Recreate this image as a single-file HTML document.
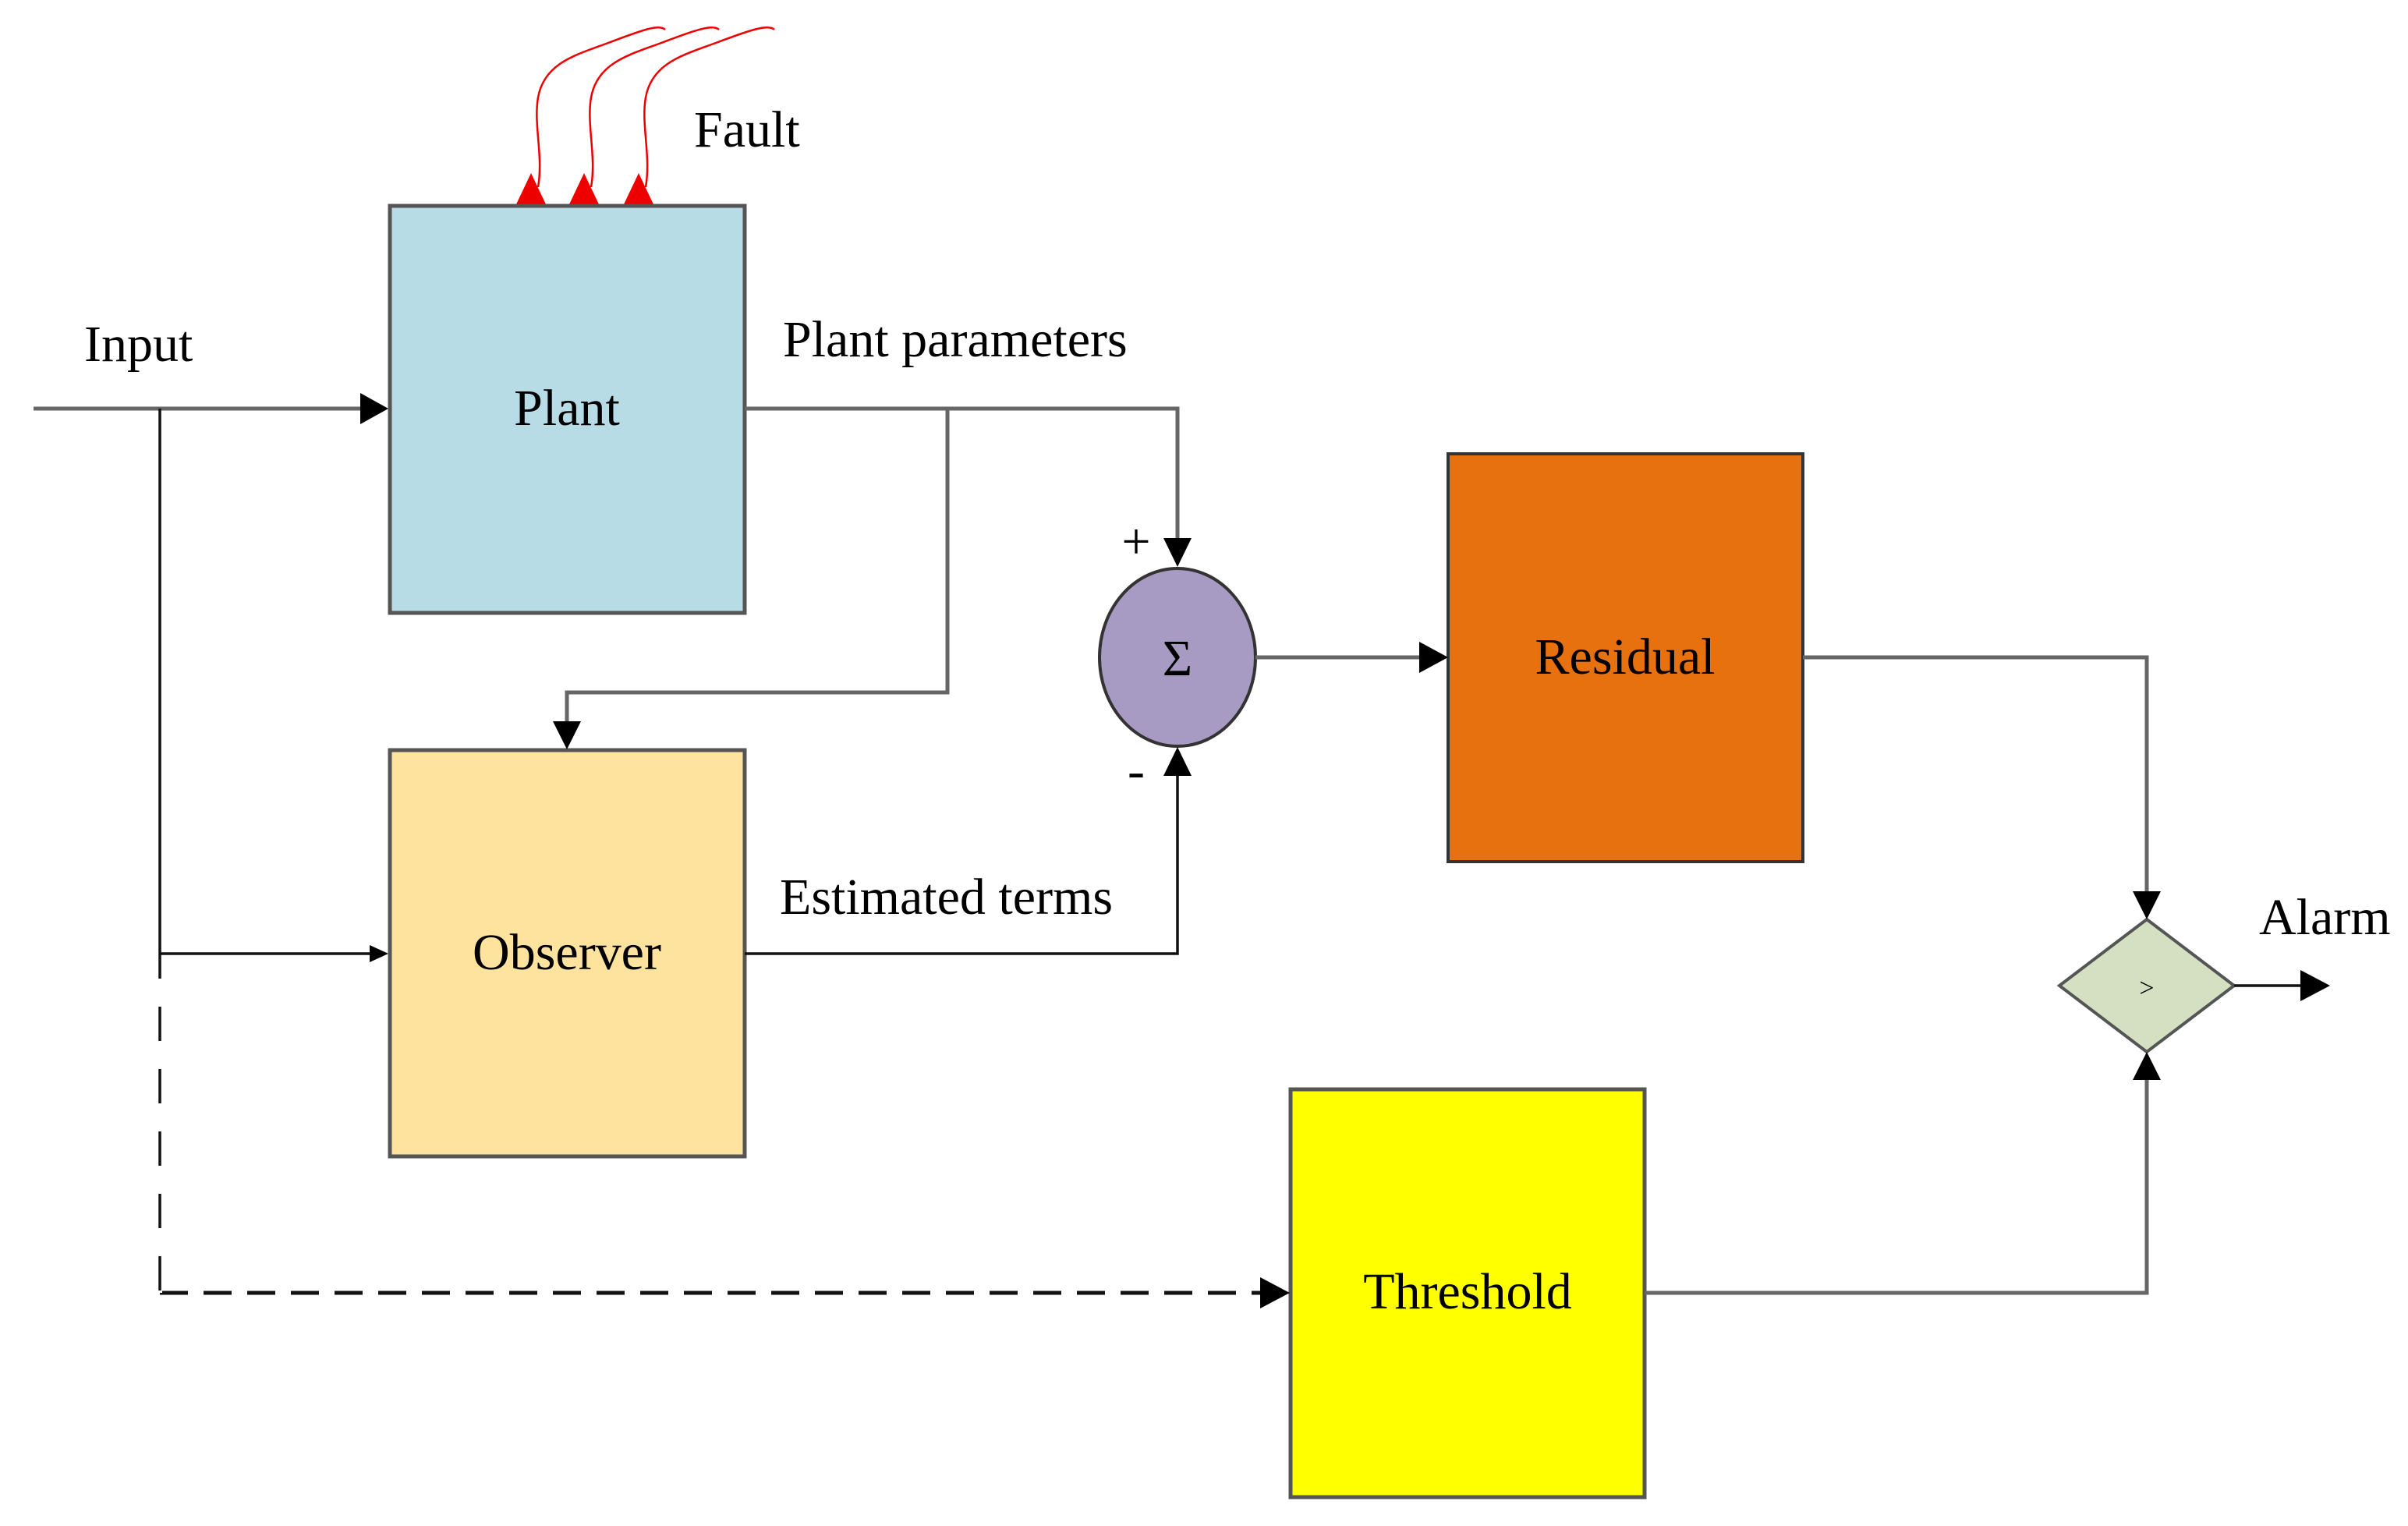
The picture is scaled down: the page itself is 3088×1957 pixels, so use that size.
<!DOCTYPE html>
<html><head><style>html,body{margin:0;padding:0;background:#fff}svg{display:block}</style></head><body>
<svg width="3088" height="1957" viewBox="0 0 3088 1957" xmlns="http://www.w3.org/2000/svg" font-family="Liberation Serif, serif">
<style>.g{stroke:#666;stroke-width:5;fill:none}.k{stroke:#111;stroke-width:3.5;fill:none}</style>
<!-- fault lines -->
<g stroke="#e00" stroke-width="2.5" fill="none">
<path d="M690,240 C697,200 684,160 690,125 C698,80 740,70 780,55 C820,40 845,30 853,38"/>
<path d="M758,240 C765,200 752,160 758,125 C766,80 808,70 848,55 C888,40 914,30 922,38"/>
<path d="M828,240 C835,200 822,160 828,125 C836,80 878,70 918,55 C958,40 985,30 993,38"/>
</g>
<g fill="#e00"><path d="M662,262 L681,222 L700,262z"/><path d="M730,262 L749,222 L768,262z"/><path d="M800,262 L819,222 L838,262z"/></g>
<!-- boxes -->
<rect x="500" y="264" width="455" height="522" fill="#b7dce6" stroke="#555" stroke-width="5"/>
<rect x="500" y="962" width="455" height="521" fill="#fde39d" stroke="#555" stroke-width="5"/>
<rect x="1857" y="582" width="455" height="523" fill="#e8710f" stroke="#333" stroke-width="4"/>
<rect x="1655" y="1397" width="454" height="523" fill="#ffff00" stroke="#555" stroke-width="5"/>
<ellipse cx="1510" cy="843" rx="100" ry="114" fill="#a89bc3" stroke="#333" stroke-width="4"/>
<path d="M2753,1179 L2865,1264 L2753,1349 L2641,1264 z" fill="#d5e0c2" stroke="#555" stroke-width="4"/>
<!-- connectors -->
<path class="g" d="M43,524 L480,524"/>
<path d="M462,504 L498,524 L462,544z" fill="#000"/>
<path class="k" d="M205,524 L205,1658"/>
<path class="k" d="M205,1223 L480,1223"/><path d="M474,1212 L498,1223 L474,1234z" fill="#000"/>
<path d="M205,1658 L1620,1658" stroke="#111" stroke-width="5" stroke-dasharray="36,20" fill="none"/>
<path d="M205,1225 L205,1658" stroke="#fff" stroke-width="6" stroke-dasharray="0,30,36,14" fill="none"/>
<path d="M1616,1638 L1654,1658 L1616,1678z" fill="#000"/>
<path class="g" d="M955,524 L1510,524 L1510,700"/>
<path d="M1492,690 L1510,727 L1528,690z" fill="#000"/>
<path class="g" d="M1215,524 L1215,888 L727,888 L727,930"/>
<path d="M709,925 L727,961 L745,925z" fill="#000"/>
<path class="k" d="M955,1223 L1510,1223 L1510,990"/>
<path d="M1492,995 L1510,958 L1528,995z" fill="#000"/>
<path class="g" d="M1610,843 L1825,843"/>
<path d="M1820,823 L1857,843 L1820,863z" fill="#000"/>
<path class="g" d="M2312,843 L2753,843 L2753,1150"/>
<path d="M2735,1143 L2753,1179 L2771,1143z" fill="#000"/>
<path class="g" d="M2109,1658 L2753,1658 L2753,1380"/>
<path d="M2735,1385 L2753,1349 L2771,1385z" fill="#000"/>
<path class="k" d="M2865,1264 L2960,1264"/>
<path d="M2950,1244 L2988,1264 L2950,1284z" fill="#000"/>
<!-- labels -->
<g fill="#000" font-size="66">
<text x="890" y="188">Fault</text>
<text x="108" y="463">Input</text>
<text x="1004" y="457">Plant parameters</text>
<text x="727" y="545" text-anchor="middle">Plant</text>
<text x="1000" y="1172">Estimated terms</text>
<text x="727" y="1243" text-anchor="middle">Observer</text>
<text x="2084" y="864" text-anchor="middle">Residual</text>
<text x="1882" y="1678" text-anchor="middle">Threshold</text>
<text x="2897" y="1198">Alarm</text>
<text x="1510" y="866" text-anchor="middle">Σ</text>
<text x="1457" y="716" text-anchor="middle">+</text>
<text x="1457" y="1010" text-anchor="middle">-</text>
<text x="2753" y="1278" text-anchor="middle" font-size="34">&gt;</text>
</g>
</svg>
</body></html>
